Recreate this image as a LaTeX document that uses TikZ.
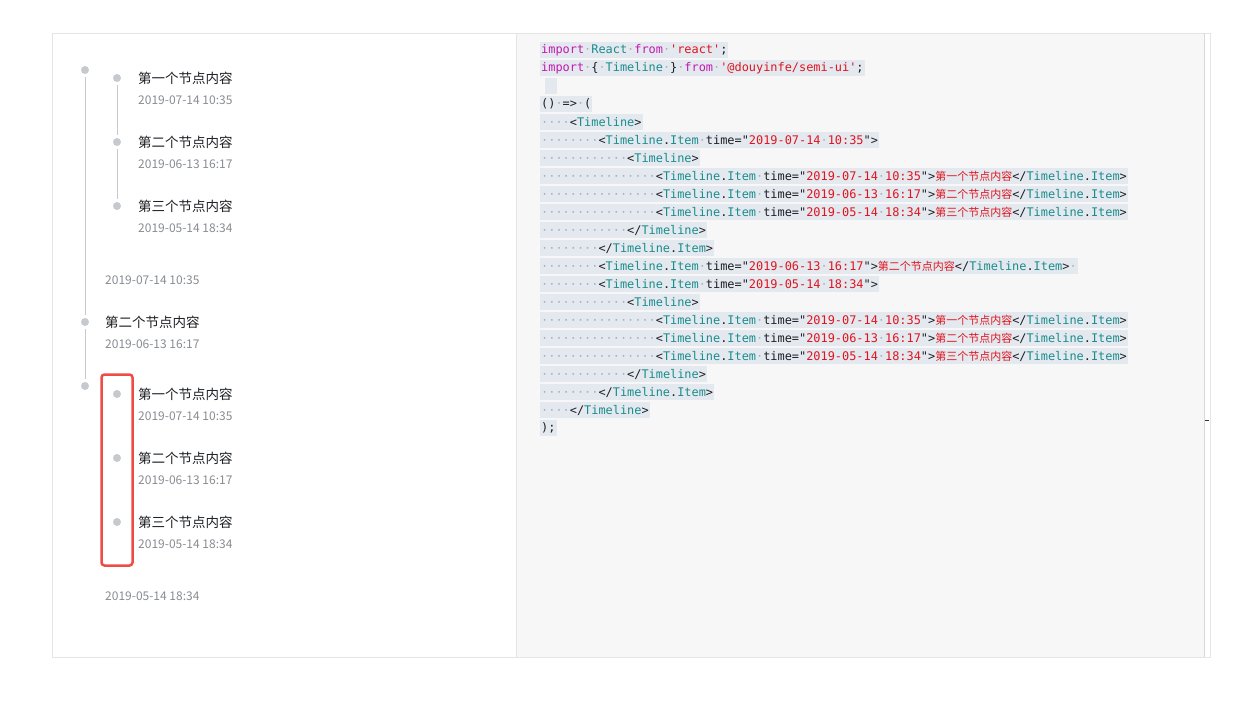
\documentclass[tikz,border=0pt]{standalone}
\usepackage{fontspec}
\setmainfont{Noto Sans CJK SC}
\newfontfamily\cjk{Noto Sans CJK SC}
\newfontfamily\mono{DejaVu Sans Mono}
\definecolor{kw}{HTML}{C418B0}
\definecolor{tl}{HTML}{1B8C8C}
\definecolor{st}{HTML}{E0141E}
\definecolor{cbg}{HTML}{E4E9EF}
\definecolor{dg}{HTML}{A8B0BA}
\definecolor{dot}{HTML}{C6CACF}
\definecolor{tt}{HTML}{1C1F23}
\definecolor{tm}{HTML}{888D92}
\newcommand\spc{\textcolor{dg}{·}}
\newcommand\cK[1]{\textcolor{kw}{#1}}
\newcommand\cT[1]{\textcolor{tl}{#1}}
\newcommand\cS[1]{\textcolor{st}{#1}}
\newcommand\cZ[1]{\textcolor{st}{\cjk\fontsize{11}{12}\selectfont #1}}
\newcommand\cI[1]{\textcolor{dg}{#1}}
\tikzset{
 cl/.style={anchor=west,fill=cbg,inner xsep=1pt,inner ysep=0pt,minimum height=16pt,font=\mono\fontsize{11.9}{13}\selectfont,text=tt},
 ttl/.style={anchor=west,inner sep=0pt,font=\fontsize{13.5}{15}\selectfont,text=tt},
 tim/.style={anchor=west,inner sep=0pt,font=\fontsize{12}{13}\selectfont,text=tm},
 dt/.style={circle,fill=dot,inner sep=0pt,minimum size=8pt},
 ln/.style={draw=dot,line width=0.8pt,shorten <=3pt,shorten >=3pt}
}
\begin{document}
\begin{tikzpicture}[x=1pt,y=-1pt]
\useasboundingbox (0,0) rectangle (1246,709);
\fill[white] (0,0) rectangle (1246,709);
\fill[black!3] (516,33) rectangle (1204,657);
\draw[black!10] (52,33) rectangle (1210,657);
\draw[black!10] (516,33) -- (516,657);
\draw[black!15] (1204,33) -- (1204,657);
\draw[black!80] (1205,420) -- (1209,420);
% code
\node[cl] (c1) at (540,50) {\cK{import}\spc\cT{React}\spc\cK{from}\spc\cS{'react'};};
\node[cl] (c2) at (540,68) {\cK{import}\spc\{\spc\cT{Timeline}\spc\}\spc\cK{from}\spc\cS{'@douyinfe/semi-ui'};};
\node[cl,minimum width=12pt] (c3) at (545,86) {};
\node[cl] (c4) at (540,104) {()\spc=>\spc(};
\node[cl] (c5) at (540,122) {\cI{····}<\cT{Timeline}>};
\node[cl] (c6) at (540,140) {\cI{········}<\cT{Timeline}.\cT{Item}\spc time="\cS{2019-07-14}\spc\cS{10:35}">};
\node[cl] (c7) at (540,158) {\cI{············}<\cT{Timeline}>};
\node[cl] (c8) at (540,176) {\cI{················}<\cT{Timeline}.\cT{Item}\spc time="\cS{2019-07-14}\spc\cS{10:35}">\cZ{第一个节点内容}</\cT{Timeline}.\cT{Item}>};
\node[cl] (c9) at (540,194) {\cI{················}<\cT{Timeline}.\cT{Item}\spc time="\cS{2019-06-13}\spc\cS{16:17}">\cZ{第二个节点内容}</\cT{Timeline}.\cT{Item}>};
\node[cl] (c10) at (540,212) {\cI{················}<\cT{Timeline}.\cT{Item}\spc time="\cS{2019-05-14}\spc\cS{18:34}">\cZ{第三个节点内容}</\cT{Timeline}.\cT{Item}>};
\node[cl] (c11) at (540,230) {\cI{············}</\cT{Timeline}>};
\node[cl] (c12) at (540,248) {\cI{········}</\cT{Timeline}.\cT{Item}>};
\node[cl] (c13) at (540,266) {\cI{········}<\cT{Timeline}.\cT{Item}\spc time="\cS{2019-06-13}\spc\cS{16:17}">\cZ{第二个节点内容}</\cT{Timeline}.\cT{Item}>\spc};
\node[cl] (c14) at (540,284) {\cI{········}<\cT{Timeline}.\cT{Item}\spc time="\cS{2019-05-14}\spc\cS{18:34}">};
\node[cl] (c15) at (540,302) {\cI{············}<\cT{Timeline}>};
\node[cl] (c16) at (540,320) {\cI{················}<\cT{Timeline}.\cT{Item}\spc time="\cS{2019-07-14}\spc\cS{10:35}">\cZ{第一个节点内容}</\cT{Timeline}.\cT{Item}>};
\node[cl] (c17) at (540,338) {\cI{················}<\cT{Timeline}.\cT{Item}\spc time="\cS{2019-06-13}\spc\cS{16:17}">\cZ{第二个节点内容}</\cT{Timeline}.\cT{Item}>};
\node[cl] (c18) at (540,356) {\cI{················}<\cT{Timeline}.\cT{Item}\spc time="\cS{2019-05-14}\spc\cS{18:34}">\cZ{第三个节点内容}</\cT{Timeline}.\cT{Item}>};
\node[cl] (c19) at (540,374) {\cI{············}</\cT{Timeline}>};
\node[cl] (c20) at (540,392) {\cI{········}</\cT{Timeline}.\cT{Item}>};
\node[cl] (c21) at (540,410) {\cI{····}</\cT{Timeline}>};
\node[cl] (c22) at (540,428) {);};
% outer timeline
\node[dt] (o1) at (85,70) {};
\node[dt] (o2) at (85,322) {};
\node[dt] (o3) at (85,386) {};
\draw[ln] (o1) -- (o2);
\draw[ln] (o2) -- (o3);
% nested 1
\node[dt] (a1) at (117,78) {};
\node[dt] (a2) at (117,142) {};
\node[dt] (a3) at (117,206) {};
\draw[ln] (a1) -- (a2);
\draw[ln] (a2) -- (a3);
\node[ttl] (at1) at (138,78) {第一个节点内容};
\node[tim] (am1) at (138,100) {2019-07-14 10:35};
\node[ttl] (at2) at (138,142) {第二个节点内容};
\node[tim] (am2) at (138,164) {2019-06-13 16:17};
\node[ttl] (at3) at (138,206) {第三个节点内容};
\node[tim] (am3) at (138,228) {2019-05-14 18:34};
\node[tim] (om1) at (105,280) {2019-07-14 10:35};
\node[ttl] (ot2) at (105,322) {第二个节点内容};
\node[tim] (om2) at (105,344) {2019-06-13 16:17};
% nested 2
\node[dt] (b1) at (117,394) {};
\node[dt] (b2) at (117,458) {};
\node[dt] (b3) at (117,522) {};
\node[ttl] (bt1) at (138,394) {第一个节点内容};
\node[tim] (bm1) at (138,416) {2019-07-14 10:35};
\node[ttl] (bt2) at (138,458) {第二个节点内容};
\node[tim] (bm2) at (138,480) {2019-06-13 16:17};
\node[ttl] (bt3) at (138,522) {第三个节点内容};
\node[tim] (bm3) at (138,544) {2019-05-14 18:34};
\node[tim] (om3) at (105,596) {2019-05-14 18:34};
\node[draw={rgb,255:red,238;green,77;blue,70},line width=2.5pt,rounded corners=3pt,minimum width=31pt,minimum height=191pt,inner sep=0pt] (hl) at (117,470) {};
\end{tikzpicture}
\end{document}
